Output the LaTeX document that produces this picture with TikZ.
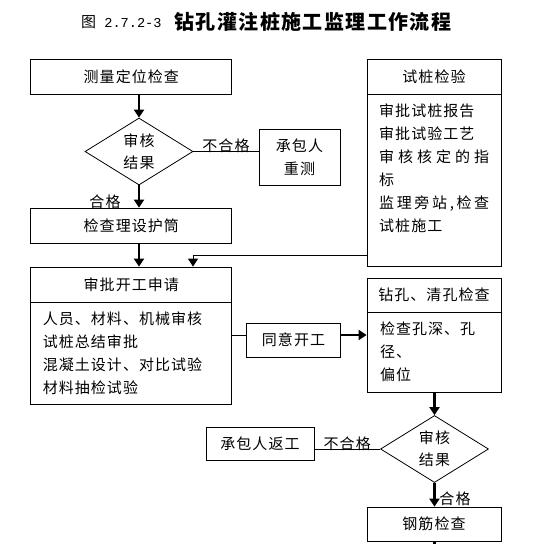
\documentclass[tikz,border=0pt]{standalone}
\usepackage{fontspec}
\usetikzlibrary{arrows.meta,shapes.geometric}
\newfontfamily\cjk[LetterSpace=7]{Noto Sans CJK SC}
\newfontfamily\cjkbt[LetterSpace=7]{Noto Sans CJK SC}
\newfontfamily\mono{Liberation Mono}
\newcommand{\spread}[2]{\makebox[#1][s]{#2}}

\begin{document}
\begin{tikzpicture}[x=1pt,y=-1pt,
	kuang/.style={draw,line width=0.8pt,rectangle,inner sep=0pt,font=\cjk\fontsize{15}{23}\selectfont},
	lingxing/.style={draw,line width=0.8pt,diamond,aspect=1.6,inner sep=0pt,minimum width=108,minimum height=67,align=center,font=\cjk\fontsize{15}{22}\selectfont},
	wenzi/.style={inner sep=0pt,font=\cjk\fontsize{15}{23}\selectfont},
	jt/.style={line width=2.2pt,-{Triangle[length=8pt,width=10pt]}},
	jtxi/.style={line width=0.8pt,-{Triangle[length=8pt,width=10pt]}},
	xian/.style={line width=0.8pt},
	cu/.style={line width=2.2pt}]
		\useasboundingbox (0,0) rectangle (556,544);
		\node[anchor=west,inner sep=0pt] (tuhao) at (81,22) {\cjk\fontsize{15}{16}\selectfont 图\mono\fontsize{13.6}{16}\selectfont\ 2.7.2-3};
		\node[inner sep=0pt] (biaoti) at (313,22) {\cjkbt\bfseries\fontsize{20}{24}\selectfont 钻孔灌注桩施工监理工作流程};
		\node[kuang,minimum width=201,minimum height=35] (cl) at (131.3,76.5) {测量定位检查};
		\node[lingxing] (sh1) at (139,151.5) {审核\\结果};
		\node[kuang,minimum width=81,minimum height=56,align=center] (cbr) at (299.5,157) {承包人\\重测};
		\node[kuang,minimum width=201,minimum height=35] (jc) at (131.3,225.5) {检查理设护筒};
		\node[kuang,minimum width=134,minimum height=35] (szt) at (434,76.5) {试桩检验};
		\node[kuang,minimum width=134,minimum height=172] (szb) at (434,180) {};
		\node[wenzi,anchor=north west,align=left] (szw) at (379,104) {审批试桩报告\\审批试验工艺\\\spread{110pt}{审\hfill 核\hfill 核\hfill 定\hfill 的\hfill 指}\\标\\\spread{110pt}{监\hfill 理\hfill 旁\hfill 站\hfill ,\hfill 检\hfill 查}\\试桩施工};
		\node[kuang,minimum width=201,minimum height=35] (spt) at (131.3,284.5) {审批开工申请};
		\node[kuang,minimum width=201,minimum height=102,text width=177,inner xsep=12pt,align=left] (spb) at (131.3,353) {人员、材料、机械审核\\试桩总结审批\\混凝土设计、对比试验\\材料抽检试验};
		\node[kuang,minimum width=94,minimum height=34] (ty) at (293.5,340) {同意开工};
		\node[kuang,minimum width=134,minimum height=34] (zkt) at (434,295) {钻孔、清孔检查};
		\node[kuang,minimum width=134,minimum height=80,text width=108,inner xsep=13pt,align=left] (zkb) at (434,352) {检查孔深、孔\\径、\\偏位};
		\node[lingxing] (sh2) at (434.5,449) {审核\\结果};
		\node[kuang,minimum width=108,minimum height=33] (fg) at (260,443.5) {承包人返工};
		\node[kuang,minimum width=134,minimum height=34] (gj) at (434,524) {钢筋检查};
		\coordinate (xia) at (434.5,544);
		\draw[jt] (sh1.north |- cl.south) -- (sh1.north);
		\draw[xian] (sh1.east) -- (sh1.east -| cbr.west) node[midway,wenzi,anchor=base] (bhg1) {不合格};
		\draw[jt] (sh1.south) -- (sh1.south |- jc.north);
		\node[wenzi,anchor=base] (hg1) at (105,207.5) {合格};
		\draw[jt] (sh1.south |- jc.south) -- (sh1.south |- spt.north);
		\draw[jtxi] ([yshift=11pt]szb.south west) -| ([xshift=61.7pt]spt.north);
		\draw[xian] ([yshift=5pt]ty.west) -- ([yshift=5pt]ty.west -| spb.east);
		\draw[jt] ([yshift=5pt]ty.east) -- ([yshift=5pt]ty.east -| zkb.west);
		\draw[jt] (sh2.north |- zkb.south) -- (sh2.north);
		\draw[xian] (sh2.west) -- (sh2.west -| fg.east) node[midway,wenzi,anchor=base] (bhg2) {不合格};
		\draw[jt] (sh2.south) -- (sh2.south |- gj.north);
		\node[wenzi,anchor=base] (hg2) at (455,504.5) {合格};
		\draw[cu] (sh2.south |- gj.south) -- (xia);
\end{tikzpicture}
\end{document}
